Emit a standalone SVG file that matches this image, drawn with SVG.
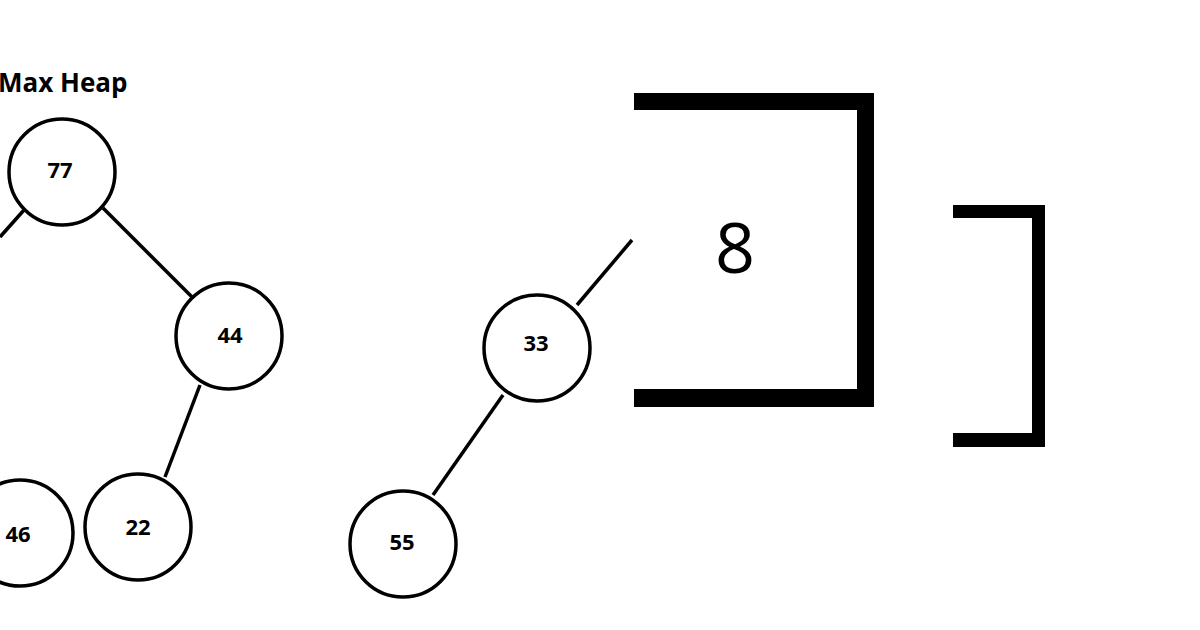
<svg xmlns="http://www.w3.org/2000/svg" width="1200" height="630" viewBox="0 0 1200 630">
<style>
.n{fill:#fff;stroke:#000;stroke-width:3.5}
.t{font-family:"Open Sans","Liberation Sans",sans-serif;font-weight:bold;font-size:22px;text-anchor:middle;dominant-baseline:central}
.e{stroke:#000;stroke-width:3.5;fill:none}
</style>
<rect width="1200" height="630" fill="#fff"/>
<text x="-2" y="92" font-family="Open Sans, Liberation Sans, sans-serif" font-weight="bold" font-size="26">Max Heap</text>
<g id="edges">
<line class="e" x1="0" y1="237" x2="24" y2="210"/>
<line class="e" x1="103" y1="208" x2="193" y2="298"/>
<line class="e" x1="200" y1="385" x2="165" y2="477"/>
<line class="e" x1="577" y1="305" x2="632" y2="240"/>
<line class="e" x1="503" y1="395" x2="433" y2="495"/>
</g>
<g id="n77"><circle class="n" cx="62" cy="172" r="53"/><text class="t" x="60" y="169">77</text></g>
<g id="n44"><circle class="n" cx="229" cy="336" r="53"/><text class="t" x="230" y="334">44</text></g>
<g id="n22"><circle class="n" cx="138" cy="527" r="53"/><text class="t" x="138" y="526">22</text></g>
<g id="n46"><circle class="n" cx="20" cy="533" r="53"/><text class="t" x="18" y="533">46</text></g>
<g id="n33"><circle class="n" cx="537" cy="348" r="53"/><text class="t" x="536" y="342">33</text></g>
<g id="n55"><circle class="n" cx="403" cy="544" r="53"/><text class="t" x="402" y="541">55</text></g>
<g id="bracket1">
<rect x="634" y="93" width="240" height="17"/>
<rect x="857" y="93" width="17" height="314"/>
<rect x="634" y="389" width="240" height="18"/>
<text x="735" y="246" font-family="Open Sans, Liberation Sans, sans-serif" font-size="70" text-anchor="middle" dominant-baseline="central">8</text>
</g>
<g id="bracket2">
<rect x="953" y="205" width="92" height="13"/>
<rect x="1032" y="205" width="13" height="242"/>
<rect x="953" y="433" width="92" height="14"/>
</g>
</svg>
